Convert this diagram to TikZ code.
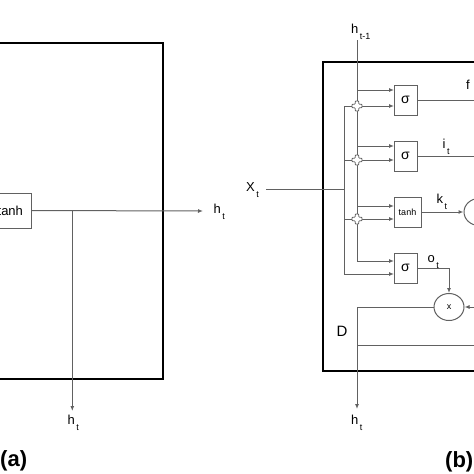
\documentclass[tikz,border=0pt]{standalone}
\usepackage{fontspec}
\setmainfont{Liberation Sans}
\usetikzlibrary{arrows.meta,shapes.geometric}
\definecolor{ln}{gray}{0.38}
\newcommand\lsub[1]{\hspace{1.5pt}\raisebox{-6pt}{\fontsize{9}{9}\selectfont #1}}
\tikzset{
  wire/.style={draw=ln, line width=1pt},
  arr/.style={wire, -{Latex[length=5pt,width=4pt]}},
  outer/.style={draw=black, line width=2pt},
  boxA/.style={draw=ln, line width=1pt, fill=white, inner sep=0pt, font=\fontsize{13}{13}\selectfont},
  gate/.style={draw=ln, line width=1pt, fill=white, minimum width=23pt, minimum height=30pt, inner sep=0pt, font=\fontsize{14}{14}\selectfont},
  mult/.style={draw=ln, line width=1pt, fill=white, ellipse, minimum width=30pt, minimum height=27pt, inner sep=0pt, font=\fontsize{9}{9}\selectfont},
  lbl/.style={inner sep=0pt, anchor=base west, font=\fontsize{13}{13}\selectfont},
  tag/.style={inner sep=0pt, anchor=base west, font=\bfseries\fontsize{22}{22}\selectfont},
  pls/.pic={\filldraw[draw=ln, fill=white, line width=0.8pt, rounded corners=0.8pt]
     (-1.8,-5)--(1.8,-5)--(1.8,-1.8)--(5,-1.8)--(5,1.8)--(1.8,1.8)--(1.8,5)--(-1.8,5)--(-1.8,1.8)--(-5,1.8)--(-5,-1.8)--(-1.8,-1.8)--cycle;}
}
\begin{document}
\begin{tikzpicture}[x=1pt,y=-1pt]
\useasboundingbox (0,0) rectangle (474,474);
\clip (0,0) rectangle (474,474);

% ---------- (a) ----------
\draw[outer] (-40,43) rectangle (163,379);
\node[boxA, minimum width=41.4pt, minimum height=35pt] (ta) at (10.3,210.5) {tanh};
\coordinate (aTip) at (203,211);
\coordinate (aJ) at (72.3,211);
\coordinate (aDown) at (72.3,411);
\draw[arr] (ta.east) -- (aTip);
\draw[arr] (aJ) -- (aDown);
\node[lbl] (haR) at (213.5,213.5) {h\lsub{t}};
\node[lbl] (haB) at (67.5,424) {h\lsub{t}};
\node[tag] (tagA) at (0,466.5) {(a)};

% ---------- (b) ----------
\draw[outer] (323,62) rectangle (520,371);
\node[lbl] (hT) at (351,33) {h\lsub{t-1}};
\node[lbl] (xT) at (246,191.5) {X\lsub{t}};
\node[lbl, font=\fontsize{15}{15}\selectfont] (dL) at (336.5,336) {D};

\node[gate] (fg) at (405.5,100) {σ};
\node[gate] (ig) at (405.5,156) {σ};
\node[gate, minimum width=27pt, font=\fontsize{9}{9}\selectfont] (kg) at (407.5,212) {tanh};
\node[gate] (og) at (405.5,268) {σ};
\node[mult] (kc) at (479,212) {};
\node[mult] (mc) at (449,307) {x};

% input ports
\coordinate (fu) at (394,90);  \coordinate (fl) at (394,106);
\coordinate (iu) at (394,146); \coordinate (il) at (394,160);
\coordinate (ku) at (394,206); \coordinate (kl) at (394,219);
\coordinate (ou) at (394,261); \coordinate (ol) at (394,274);
\coordinate (vTop) at (357,40);
\coordinate (lTop) at (344,106);
\coordinate (xStart) at (266,189);

% h_{t-1} trunk
\draw[wire] (vTop) -- (vTop |- ou);
\draw[arr] (vTop |- ou) -- (ou);
\draw[arr] (vTop |- fu) -- (fu);
\draw[arr] (vTop |- iu) -- (iu);
\draw[arr] (vTop |- ku) -- (ku);

% X_t trunk
\draw[wire] (xStart) -- (lTop |- xStart);
\draw[wire] (lTop) -- (lTop |- ol);
\draw[arr] (lTop |- ol) -- (ol);
\draw[arr] (lTop) -- (fl);
\draw[arr] (lTop |- il) -- (il);
\draw[arr] (lTop |- kl) -- (kl);

% junction crosses
\pic at (vTop |- fl) {pls};
\pic at (vTop |- il) {pls};
\pic at (vTop |- kl) {pls};

% outputs
\coordinate (fOut) at (490,100);
\coordinate (iOut) at (490,156);
\draw[wire] (fg.east) -- (fOut);
\draw[wire] (ig.east) -- (iOut);
\draw[arr] (kg.east) -- (kc.west);
\draw[arr] (og.east) -| (mc.north);
\coordinate (mIn) at (490,307);
\draw[arr] (mIn) -- (mc.east);
\coordinate (hOut) at (357,409);
\draw[arr] (mc.west) -| (hOut);
\coordinate (bl) at (357,345);
\coordinate (blEnd) at (490,345);
\draw[wire] (bl) -- (blEnd);

\node[lbl] (fL) at (466,89) {f};
\node[lbl] (iL) at (442.5,148) {i\lsub{t}};
\node[lbl] (kL) at (436.5,203) {k\lsub{t}};
\node[lbl] (oL) at (427.5,262) {o\lsub{t}};
\node[lbl] (hB) at (351,424) {h\lsub{t}};
\node[tag] (tagB) at (445,467) {(b)};
\end{tikzpicture}
\end{document}
